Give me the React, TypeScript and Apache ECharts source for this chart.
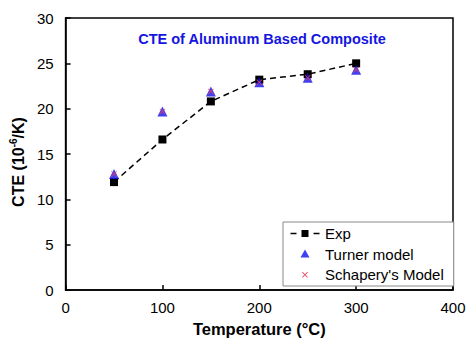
import React, { useEffect, useRef } from "react";
import * as echarts from "echarts";

const temperatures = [50, 100, 150, 200, 250, 300];
const expValues = [11.9, 16.6, 20.8, 23.2, 23.8, 25.0];
const turnerValues = [12.8, 19.7, 21.9, 22.9, 23.4, 24.3];
const schaperyValues = [12.8, 19.7, 21.9, 22.9, 23.4, 24.3];
const seriesNames = ["Exp", "Turner model", "Schapery's Model"];
const chartTitle = "CTE of Aluminum Based Composite";

const crossPath =
  "path://M0,1 L1,0 L5,4 L9,0 L10,1 L6,5 L10,9 L9,10 L5,6 L1,10 L0,9 L4,5 Z";
// legend icons: padded inside a 30x14 box so the visible mark stays small
const legendExp =
  "path://M0,0 L0,0 Z M30,14 L30,14 Z M0.5,6.2 L6.5,6.2 L6.5,7.8 L0.5,7.8 Z M11.5,3.5 L18.5,3.5 L18.5,10.5 L11.5,10.5 Z M23.5,6.2 L29.5,6.2 L29.5,7.8 L23.5,7.8 Z";
const legendTriangle = "path://M0,0 L0,0 Z M30,14 L30,14 Z M15,2.5 L19.5,10.5 L10.5,10.5 Z";
const legendCross =
  "path://M0,0 L0,0 Z M30,14 L30,14 Z M12,5 L12.7,4.3 L15,6.6 L17.3,4.3 L18,5 L15.7,7.3 L18,9.6 L17.3,10.3 L15,8 L12.7,10.3 L12,9.6 L14.3,7.3 Z";

export default function App() {
  const ref = useRef<HTMLDivElement>(null);
  useEffect(() => {
    if (!ref.current) return;
    const chart = echarts.init(ref.current, null, { renderer: "svg" });
    const pair = (vals: number[]) => temperatures.map((t, i) => [t, vals[i]]);
    chart.setOption({
      animation: false,
      backgroundColor: "#fff",
      textStyle: { fontFamily: "Liberation Sans, Arial, sans-serif" },
      grid: {
        left: 65,
        right: 21,
        top: 18,
        bottom: 54,
        show: true,
        borderColor: "#000",
        borderWidth: 1.5,
        backgroundColor: "transparent",
      },
      graphic: [
        {
          type: "text",
          x: 262,
          y: 39,
          style: {
            text: chartTitle,
            fill: "#1515e0",
            font: "bold 14.5px 'Liberation Sans', Arial, sans-serif",
            textAlign: "center",
            textVerticalAlign: "middle",
          },
        },
      ],
      xAxis: {
        type: "value",
        min: 0,
        max: 400,
        interval: 100,
        name: "Temperature (°C)",
        nameLocation: "middle",
        nameGap: 30,
        nameTextStyle: {
          fontSize: 16.5,
          fontWeight: "bold",
          color: "#000",
        },
        axisLine: { lineStyle: { color: "#000", width: 1.5 } },
        axisTick: { inside: true, length: 5, lineStyle: { color: "#000", width: 1.5 } },
        axisLabel: { fontSize: 15, color: "#000", margin: 10 },
        splitLine: { show: false },
      },
      yAxis: {
        type: "value",
        min: 0,
        max: 30,
        interval: 5,
        name: "{b|CTE (10}{s|-6}{b|/K)}",
        nameLocation: "middle",
        nameGap: 38,
        nameTextStyle: {
          padding: [0, 16, 0, 0],
          rich: {
            b: { fontSize: 16, fontWeight: "bold", color: "#000", lineHeight: 18, verticalAlign: "bottom" },
            s: { fontSize: 10, fontWeight: "bold", color: "#000", lineHeight: 18, verticalAlign: "top" },
          },
        },
        axisLine: { lineStyle: { color: "#000", width: 1.5 } },
        axisTick: { inside: true, length: 5, lineStyle: { color: "#000", width: 1.5 } },
        axisLabel: { fontSize: 15, color: "#000", margin: 12 },
        splitLine: { show: false },
      },
      legend: {
        left: 283,
        top: 222,
        orient: "vertical",
        backgroundColor: "#fff",
        borderColor: "#888",
        borderWidth: 1,
        padding: [4, 10, 4, 7],
        itemGap: 5.5,
        itemWidth: 30,
        itemHeight: 14,
        textStyle: { fontSize: 15, color: "#000" },
        data: [
          { name: seriesNames[0], icon: legendExp, itemStyle: { color: "#000" } },
          { name: seriesNames[1], icon: legendTriangle, itemStyle: { color: "#1010ee" } },
          { name: seriesNames[2], icon: legendCross, itemStyle: { color: "#e6405a" } },
        ],
      },
      series: [
        {
          name: seriesNames[0],
          type: "line",
          data: pair(expValues),
          symbol: "rect",
          symbolSize: 8,
          itemStyle: { color: "#000" },
          lineStyle: { color: "#000", width: 1.5, type: [6, 4] },
          z: 2,
        },
        {
          name: seriesNames[1],
          type: "scatter",
          data: pair(turnerValues),
          symbol: "triangle",
          symbolSize: 10,
          itemStyle: { color: "#1010ee" },
          z: 3,
        },
        {
          name: seriesNames[2],
          type: "scatter",
          data: pair(schaperyValues),
          symbol: crossPath,
          symbolSize: 6,
          itemStyle: { color: "#e6405a", opacity: 0.85 },
          z: 4,
        },
      ],
    });
    return () => chart.dispose();
  }, []);
  return (
    <div
      ref={ref}
      style={{ position: "fixed", left: 0, top: 0, width: 474, height: 344 }}
    />
  );
}
